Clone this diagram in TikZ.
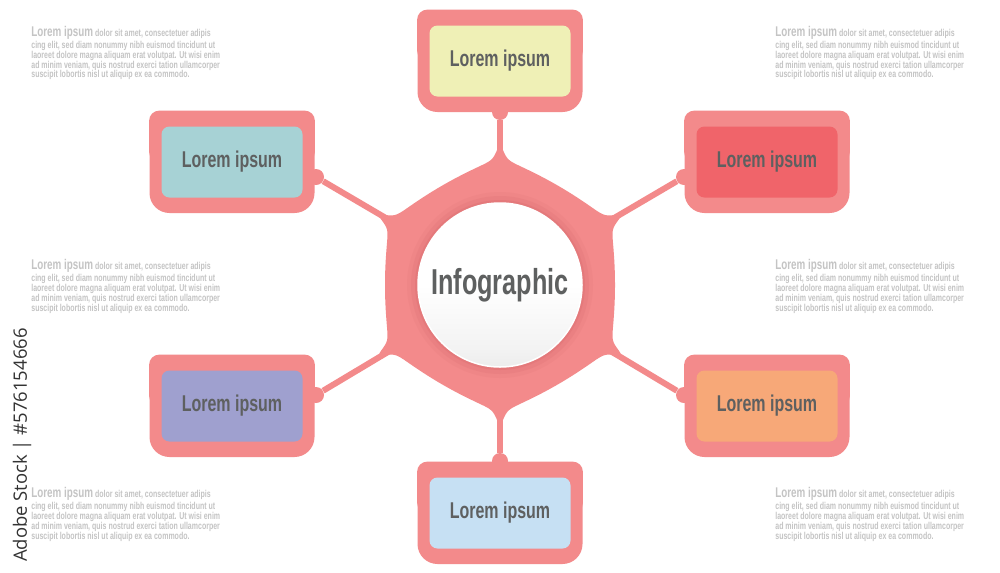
\documentclass[tikz,border=0pt]{standalone}
\usepackage{fontspec}
\setmainfont{Liberation Sans}
\newfontfamily\condfont[FakeStretch=0.7]{Liberation Sans}
\newfontfamily\stockfont{Open Sans}
\usepackage{tikz}
\usetikzlibrary{shapes.geometric, positioning}
\definecolor{framepink}{HTML}{F38A8B}
\definecolor{hubshade}{HTML}{D96C6E}
\definecolor{yellowcard}{HTML}{EFF0B6}
\definecolor{tealcard}{HTML}{A7D2D5}
\definecolor{redcard}{HTML}{F0646A}
\definecolor{lavcard}{HTML}{9FA0CF}
\definecolor{orangecard}{HTML}{F7A878}
\definecolor{bluecard}{HTML}{C6E0F3}
\definecolor{labelgray}{HTML}{5E6060}
\definecolor{bodygray}{HTML}{C4C4C4}
\pgfdeclareverticalshading{hubfade}{100bp}{color(0bp)=(black!20);
color(12bp)=(black!13); color(30bp)=(black!5); color(50bp)=(white);
color(100bp)=(white)}
\tikzstyle{frame} = [rectangle, rounded corners=4mm, minimum width=33mm,
minimum height=20.4mm, fill=framepink, inner sep=0pt]
\tikzstyle{frametop} = [fill=framepink, rounded corners=2mm]
\tikzstyle{card} = [rectangle, rounded corners=1.6mm, minimum width=28.2mm,
minimum height=14.2mm, inner sep=0pt, text=labelgray,
font=\condfont\bfseries\fontsize{13}{13}\selectfont]
\tikzstyle{pin} = [circle, fill=framepink, minimum size=3.2mm, inner sep=0pt]
\tikzstyle{link} = [draw=framepink, line width=1.2mm]
\tikzstyle{blurb} = [anchor=north west, align=left, inner sep=0pt,
text=bodygray, font=\condfont\bfseries\fontsize{5.7}{5.6}\selectfont]
\tikzstyle{hubdisc} = [circle, minimum size=32.8mm, inner sep=0pt,
shading=hubfade, draw=white, line width=0.3mm,
text=labelgray, font=\condfont\bfseries\fontsize{20.5}{21}\selectfont]
\newcommand{\blurbtext}{{\fontsize{8}{5.6}\selectfont Lorem ipsum} dolor sit amet, consectetuer adipis\\
cing elit, sed diam nonummy nibh euismod tincidunt ut\\
laoreet dolore magna aliquam erat volutpat. Ut wisi enim\\
ad minim veniam, quis nostrud exerci tation ullamcorper\\
suscipit lobortis nisl ut aliquip ex ea commodo.}
\begin{document}
\begin{tikzpicture}[x=0.2mm, y=-0.2mm]

\fill[white] (0,0) rectangle (1000,572);
\useasboundingbox (0,0) rectangle (1000,572);

\coordinate(c) at (500,285);

\node(topFrame)[frame] at (500,61){};
\node(tlFrame)[frame] at (232,162){};
\node(trFrame)[frame] at (767,162){};
\node(blFrame)[frame] at (232,406){};
\node(brFrame)[frame] at (767,406){};
\node(botFrame)[frame] at (500,513){};
\foreach \f in {topFrame, tlFrame, trFrame, blFrame, brFrame, botFrame}
  \fill[frametop] (\f.north west) rectangle (\f.east);

\node(topPin)[pin] at (500,112){};
\node(tlPin)[pin] at (316,177){};
\node(trPin)[pin] at (684,177){};
\node(blPin)[pin] at (316,395){};
\node(brPin)[pin] at (684,395){};
\node(botPin)[pin] at (500,461){};

\draw[link](c) -- (topPin);
\draw[link](c) -- (tlPin);
\draw[link](c) -- (trPin);
\draw[link](c) -- (blPin);
\draw[link](c) -- (brPin);
\draw[link](c) -- (botPin);

\fill[framepink, shift={(500,285)}] plot[domain=0:360, samples=721]
  (\x:{115/cos(0.85*(30-abs(mod(\x,60)-30)))
   + 12/(1+((mod(\x,60)-30)/3)^2)/(1+((mod(\x,60)-30)/3)^2)}) -- cycle;

\fill[hubshade, opacity=.12] (c) circle (18.6mm);
\fill[hubshade, opacity=.2] (c) circle (17.8mm);
\fill[hubshade, opacity=.3] (c) circle (17.0mm);
\node(hub)[hubdisc] at (c){Infographic};

\node(topCard)[card, fill=yellowcard] at (topFrame){Lorem ipsum};
\node(tlCard)[card, fill=tealcard] at (tlFrame){Lorem ipsum};
\node(trCard)[card, fill=redcard] at (trFrame){Lorem ipsum};
\node(blCard)[card, fill=lavcard] at (blFrame){Lorem ipsum};
\node(brCard)[card, fill=orangecard] at (brFrame){Lorem ipsum};
\node(botCard)[card, fill=bluecard] at (botFrame){Lorem ipsum};

\node(tlText)[blurb] at (31,26){\blurbtext};
\node(mlText)[blurb] at (31,259){\blurbtext};
\node(blText)[blurb] at (31,487){\blurbtext};
\node(trText)[blurb] at (775,26){\blurbtext};
\node(mrText)[blurb] at (775,259){\blurbtext};
\node(brText)[blurb] at (775,487){\blurbtext};

\node(stockId)[rotate=90, text=black!80, font=\stockfont\fontsize{10.5}{12}\selectfont]
  at (22,445){Adobe Stock | \#576154666};

\end{tikzpicture}
\end{document}
